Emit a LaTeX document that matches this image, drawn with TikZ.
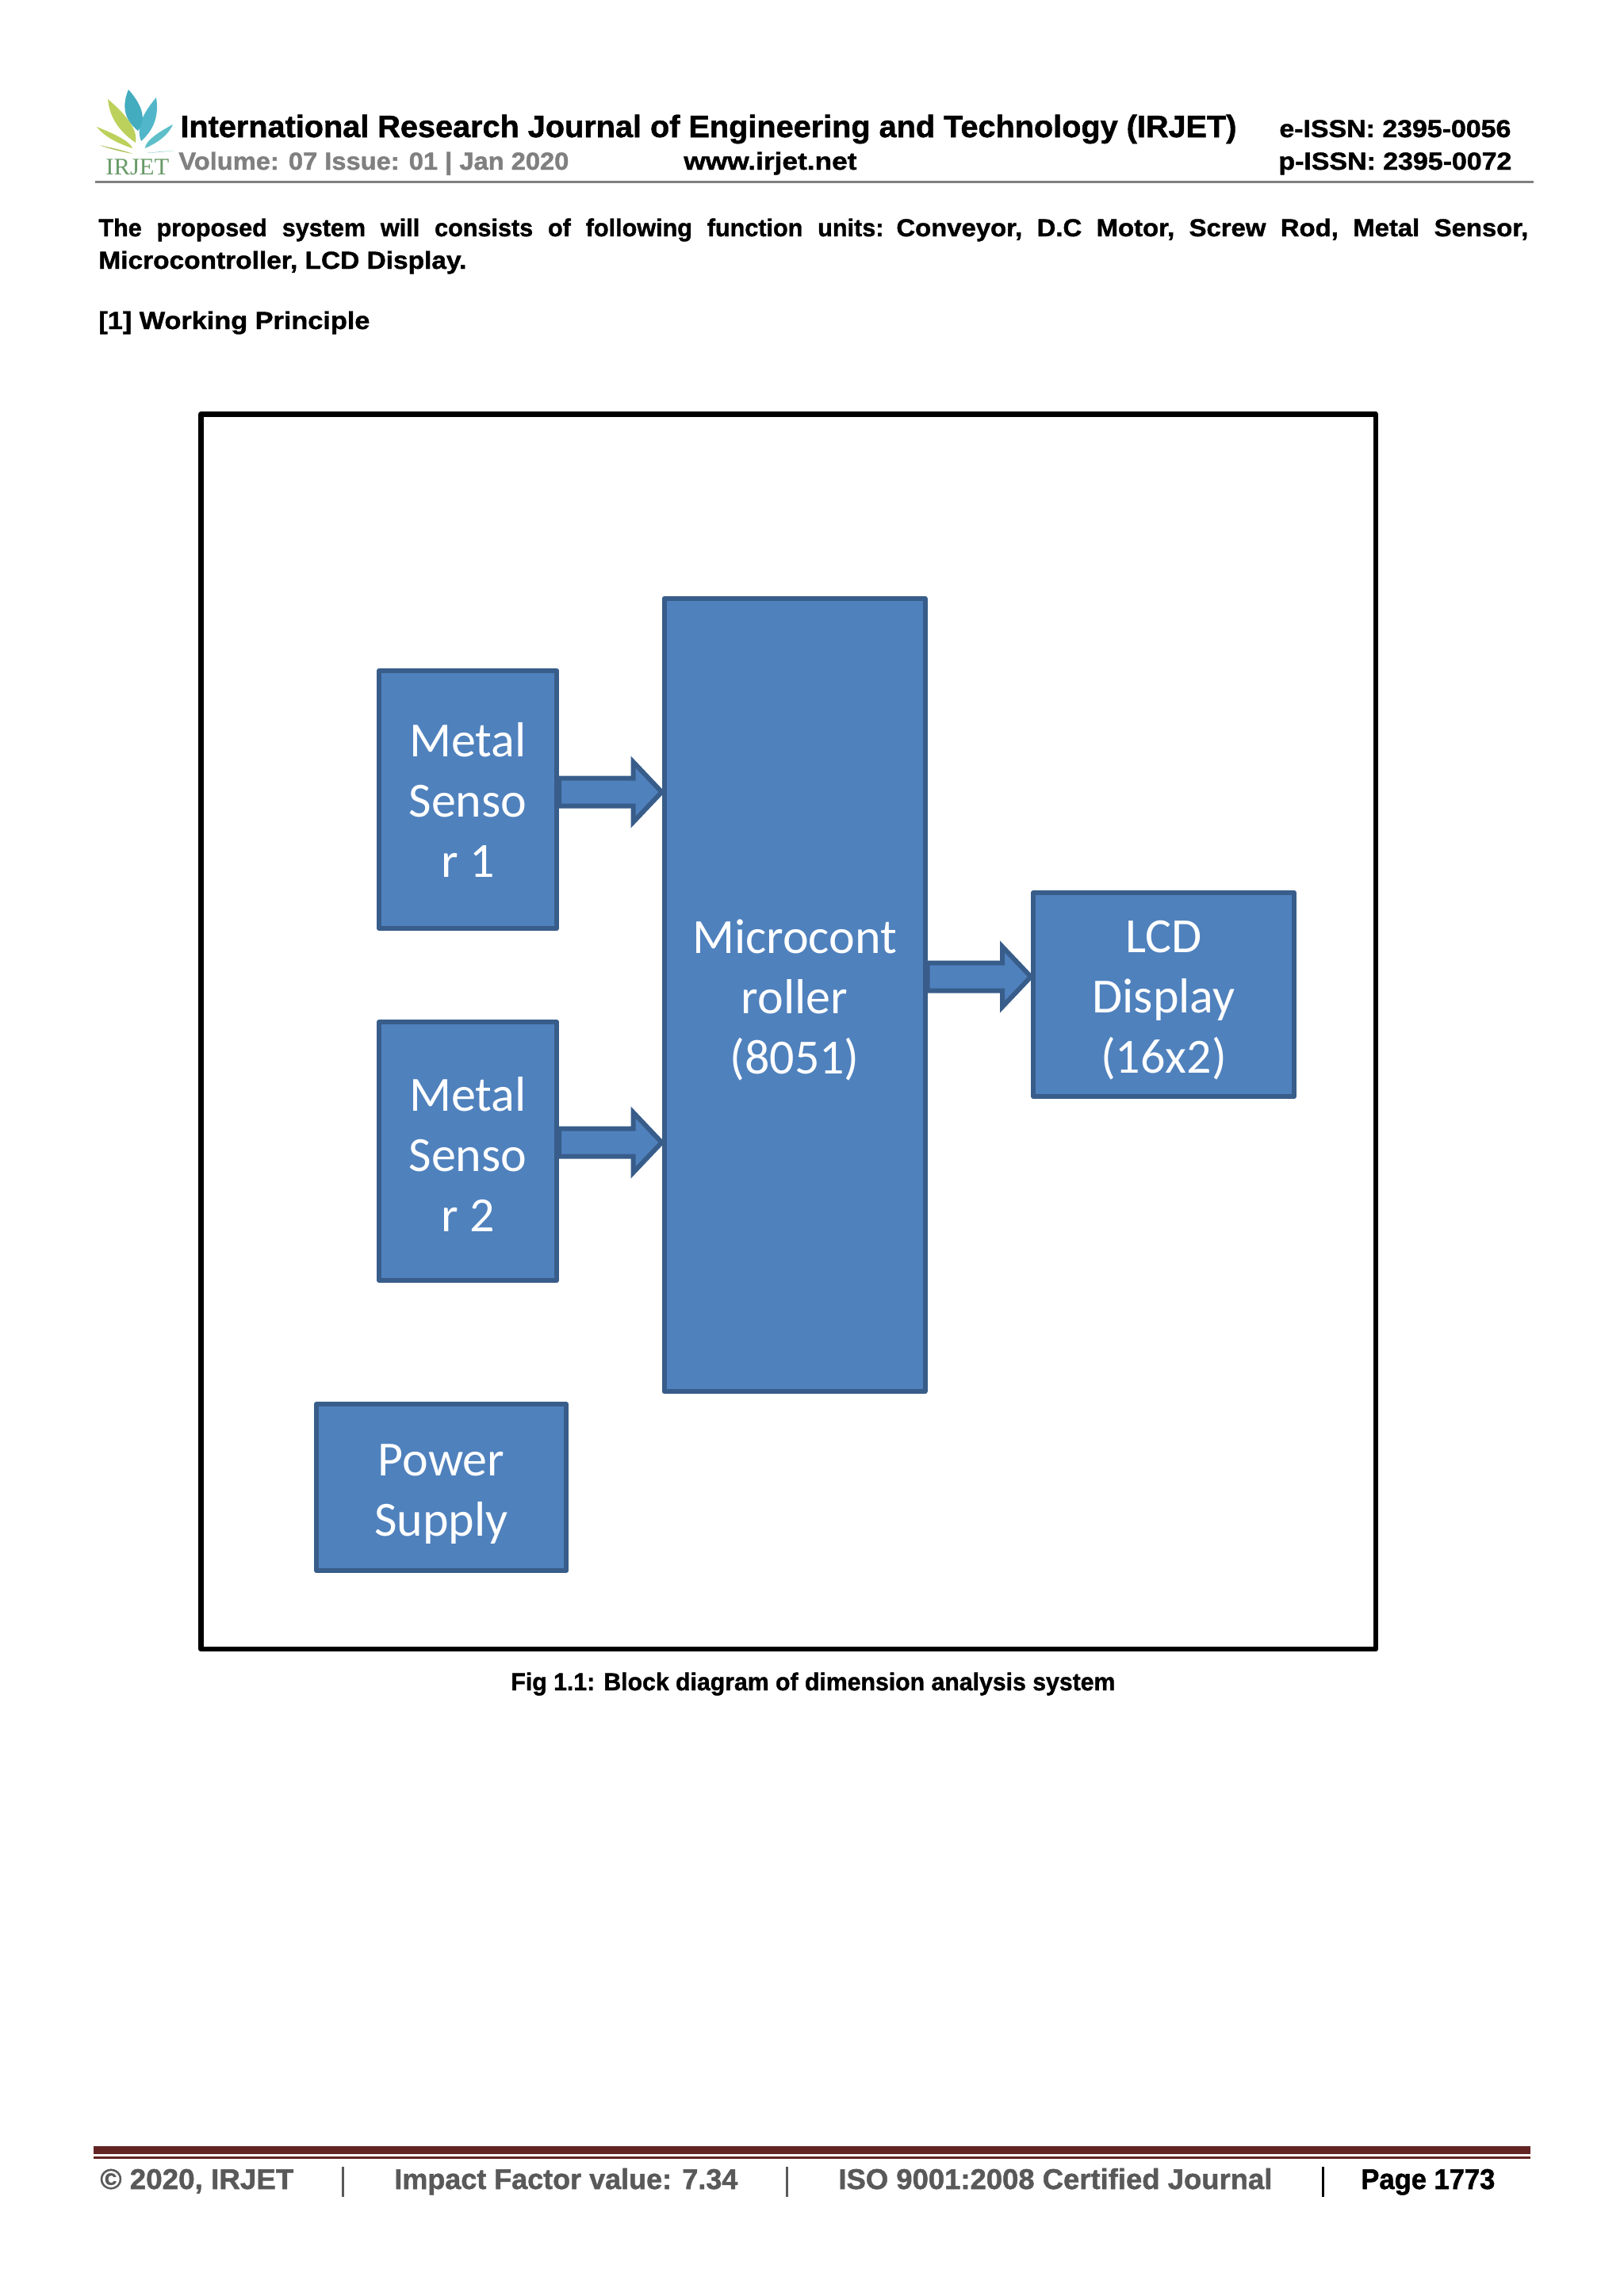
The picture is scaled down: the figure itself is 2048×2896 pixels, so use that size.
\documentclass[tikz,border=0pt]{standalone}
\usepackage{fontspec}
\usepackage{graphicx}
\setmainfont[BoldFeatures={FakeBold=1.3}]{Liberation Sans}
\newfontfamily\boxfont{Carlito}
\newfontfamily\logofont{Liberation Serif}
\usetikzlibrary{calc}
\definecolor{boxfill}{HTML}{4F81BD}
\definecolor{boxline}{HTML}{385D8A}
\definecolor{hgray}{HTML}{808080}
\definecolor{fgray}{HTML}{595959}
\definecolor{maroon}{HTML}{622423}
\newcommand{\fitx}[2]{\resizebox{#1pt}{\height}{#2}}
\newcommand{\fatarrow}[2]{%
  \draw[arrowshape] ($(#1)+(0,-17.5)$) -- ($(#2)+(-36,-17.5)$) -- ($(#2)+(-36,-38)$) -- (#2)
    -- ($(#2)+(-36,38)$) -- ($(#2)+(-36,17.5)$) -- ($(#1)+(0,17.5)$) -- cycle;}
\tikzset{
  blockbox/.style={draw=boxline,fill=boxfill,line width=3pt,line join=round,text=white,align=center,inner sep=0pt,
    font=\boxfont\fontsize{31}{38}\selectfont},
  arrowshape/.style={draw=boxline,fill=boxfill,line width=3pt,line join=miter},
  pagetext/.style={anchor=base west,inner sep=0pt,font=\bfseries\fontsize{15.5}{18}\selectfont},
  petal/.style={draw=none,opacity=0.9}
}
\begin{document}
\begin{tikzpicture}[x=0.5pt,y=-0.5pt]
\useasboundingbox (0,0) rectangle (2048,2896);
\fill[white] (0,0) rectangle (2048,2896);

% logo
\foreach \tx/\ty/\bx/\by/\c/\w in {
  162/113/174/165/2FA3B8/17,
  197/123/178/178/3FAFC4/14,
  218/157/183/187/4DB9C4/11,
  136/125/171/180/B5CC4A/15,
  122/160/167/187/B5CC4A/12,
  125/183/167/194/A9BF55/6,
  220/190/185/193/4DB9A8/4}{
  \definecolor{pc}{HTML}{\c}
  \path[petal,fill=pc] (\tx,\ty) .. controls ($(\tx,\ty)!0.5!(\bx,\by)+(-\w,0)$) and ($(\tx,\ty)!0.8!(\bx,\by)+(-\w*0.6,0)$) .. (\bx,\by)
    .. controls ($(\tx,\ty)!0.8!(\bx,\by)+(\w*0.6,0)$) and ($(\tx,\ty)!0.5!(\bx,\by)+(\w,0)$) .. (\tx,\ty) -- cycle;
}
\node[anchor=base west,inner sep=0pt,font=\logofont\fontsize{15}{16}\selectfont,text=hgray!80!green] (logo) at (133,220)
  {\fitx{40}{IRJET}};

% header
\node[pagetext,font=\bfseries\fontsize{19.5}{22}\selectfont] (title) at (227,173)
  {\fitx{666}{International Research Journal of Engineering and Technology (IRJET)}};
\node[pagetext,text=hgray] (vol) at (225,214) {\fitx{246}{Volume: 07 Issue: 01 | Jan 2020}};
\node[pagetext] (www) at (862,214) {\fitx{109}{www.irjet.net}};
\node[pagetext] (eissn) at (1613,173) {\fitx{146}{e-ISSN: 2395-0056}};
\node[pagetext] (pissn) at (1612,214) {\fitx{147}{p-ISSN: 2395-0072}};
\path[draw=hgray,line width=1.5pt] (120,229) -- (1934,229);

% body text
\node[pagetext] (para1) at (124,298)
  {\frenchspacing\fitx{495}{\hbox to 502pt{The proposed system will consists of following function units:}} \hspace{3.7pt}\fitx{398.5}{\hbox to 376pt{Conveyor, D.C Motor, Screw Rod, Metal Sensor,}}};
\node[pagetext] (para2) at (124,339) {\fitx{232}{Microcontroller, LCD Display.}};
\node[pagetext] (sect) at (124,415) {\fitx{171}{[1] Working Principle}};

% frame
\path[draw=black,line width=3.25pt,line join=round] (253.3,522.5) rectangle (1735,2080);

% blocks
\node[blockbox,minimum width=164.5pt,minimum height=500pt] (mc) at (1002,1255) {\rule{0pt}{27.5pt}Microcont\\roller\\(8051)};
\node[blockbox,minimum width=112pt,minimum height=162.5pt] (s1) at (590,1008.5) {Metal\\Senso\\r 1};
\node[blockbox,minimum width=112pt,minimum height=163pt] (s2) at (590,1452) {\rule{0pt}{25.5pt}Metal\\Senso\\r 2};
\node[blockbox,minimum width=157.5pt,minimum height=105pt] (ps) at (556.5,1876) {\rule{0pt}{28pt}Power\\Supply};
\node[blockbox,minimum width=164.5pt,minimum height=128.5pt] (lcd) at (1467.5,1254.5) {\rule{0pt}{27.4pt}LCD\\Display\\(16x2)};

% arrows
\coordinate (a1s) at (s1.east |- 0,999);
\coordinate (a1e) at (mc.west |- 0,999);
\coordinate (a2s) at (s2.east |- 0,1441);
\coordinate (a2e) at (mc.west |- 0,1441);
\coordinate (a3s) at (mc.east |- 0,1232);
\coordinate (a3e) at (lcd.west |- 0,1232);
\fatarrow{a1s}{a1e}
\fatarrow{a2s}{a2e}
\fatarrow{a3s}{a3e}

% caption
\node[pagetext] (cap) at (644,2132) {\fitx{381}{Fig 1.1: Block diagram of dimension analysis system}};

% footer
\fill[maroon] (118,2707) rectangle (1930,2717);
\fill[maroon] (118,2720) rectangle (1930,2723);
\tikzset{foot/.style={pagetext,font=\bfseries\fontsize{18}{20}\selectfont}}
\node[foot,text=fgray] (f1) at (126,2761) {\fitx{122}{© 2020, IRJET}};
\node[foot,text=fgray] (f2) at (497,2761) {\fitx{216.5}{Impact Factor value: 7.34}};
\node[foot,text=fgray] (f3) at (1057,2761) {\fitx{273.5}{ISO 9001:2008 Certified Journal}};
\node[foot] (f4) at (1716,2761) {\fitx{84.5}{Page 1773}};
\path[draw=fgray,line width=1.5pt] (432,2733) -- (432,2771);
\path[draw=fgray,line width=1.5pt] (992,2733) -- (992,2771);
\path[draw=black,line width=1.5pt] (1668,2733) -- (1668,2771);
\end{tikzpicture}
\end{document}
